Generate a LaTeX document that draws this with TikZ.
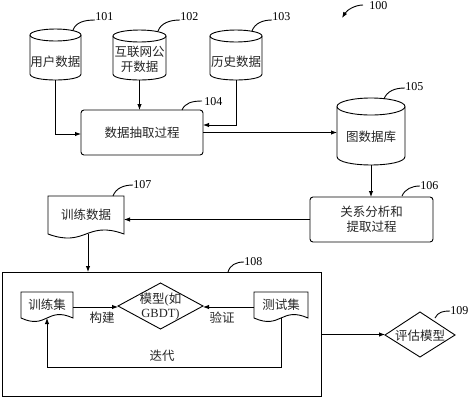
\documentclass[tikz,border=0pt]{standalone}
\usepackage{fontspec}
\setmainfont{Liberation Serif}
\newfontfamily\cjk{Noto Sans CJK SC}
\usetikzlibrary{arrows.meta}
\begin{document}
\begin{tikzpicture}[x=1pt,y=-1pt,line width=0.9pt,
  txt/.style={font=\cjk\fontsize{12.5}{15}\selectfont,inner sep=0pt,text=black!85,align=center},
  num/.style={font=\fontsize{12}{13}\selectfont,inner sep=0pt,anchor=west},
  arr/.style={-{Latex[length=6pt,width=4.5pt]}},
  ghost/.style={inner sep=0pt,outer sep=0pt,draw=none},
  rbox/.style={draw,rounded corners=3pt,inner sep=0pt,outer sep=0pt}]
\useasboundingbox (0,0) rectangle (474,400);

% cylinder 101
\draw (30,35) -- (30,74) .. controls (30,82) and (81,82) .. (81,74) -- (81,35);
\draw (55.5,35) ellipse [x radius=25.5,y radius=6];
\node[ghost,minimum width=51pt,minimum height=51pt] (c101) at (55.5,54.5) {};
\node[txt] (t101) at (55.5,62) {用户数据};
% cylinder 102
\draw (113,36) -- (113,74) .. controls (113,82) and (166,82) .. (166,74) -- (166,36);
\draw (139.5,36) ellipse [x radius=26.5,y radius=6];
\node[ghost,minimum width=53pt,minimum height=50pt] (c102) at (139.5,55) {};
\node[txt] (t102) at (139.5,59.5) {互联网公\\开数据};
% cylinder 103
\draw (210,36) -- (210,74) .. controls (210,82) and (262,82) .. (262,74) -- (262,36);
\draw (236,36) ellipse [x radius=26,y radius=6];
\node[ghost,minimum width=52pt,minimum height=50pt] (c103) at (236,55) {};
\node[txt] (t103) at (236,62) {历史数据};
% cylinder 105
\draw (337,106.5) -- (337,156.5) .. controls (337,167.8) and (405,167.8) .. (405,156.5) -- (405,106.5);
\draw (371,106.5) ellipse [x radius=34,y radius=8.5];
\node[ghost,minimum width=68pt,minimum height=67pt] (c105) at (371,131.5) {};
\node[txt] (t105) at (371,137) {图数据库};

% boxes
\node[rbox,txt,minimum width=122pt,minimum height=45pt] (b104) at (142,132.5) {数据抽取过程};
\node[rbox,txt,minimum width=123pt,minimum height=45pt] (b106) at (371.5,219.5) {关系分析和\\提取过程};

% document 107
\draw (48,196) -- (124,196) -- (124,234) .. controls (86,220) and (86,248) .. (48,234) -- cycle;
\node[ghost,txt,minimum width=76pt,minimum height=38pt] (d107) at (86,215) {训练数据};

% big box 108
\node[draw,ghost,draw,minimum width=319pt,minimum height=124pt] (big) at (161.5,334) {};

% training set doc
\draw (21,292) -- (73,292) -- (73,318) .. controls (47,306) and (47,330) .. (21,318) -- cycle;
\node[ghost,txt,minimum width=52pt,minimum height=26pt] (dtrain) at (47,305) {训练集};
% test set doc
\draw (254,292) -- (308,292) -- (308,318) .. controls (281,306) and (281,330) .. (254,318) -- cycle;
\node[ghost,txt,minimum width=54pt,minimum height=26pt] (dtest) at (281,305) {测试集};

% model diamond
\draw (118,306) -- (160.5,283) -- (203,306) -- (160.5,329) -- cycle;
\node[ghost,minimum width=85pt,minimum height=46pt] (m) at (160.5,306) {};
\node[txt,font=\cjk\fontsize{12.5}{14}\selectfont] (mt) at (160.5,306.5) {模型{\rmfamily(}如\\{\rmfamily GBDT)}};

% evaluate diamond 109
\draw (385,335) -- (420,312) -- (455,335) -- (420,357) -- cycle;
\node[ghost,minimum width=70pt,minimum height=45pt] (d109) at (420,334.5) {};
\node[txt] (t109) at (420,335.5) {评估模型};

% connectors
\draw[arr] (c101.south) |- ([yshift=-1.5pt]b104.west);
\draw[arr] (c102.south) -- (c102.south |- b104.north);
\draw[arr] (c103.south) |- ([yshift=7.5pt]b104.east);
\draw[arr] (b104.east) -- (b104.east -| c105.west);
\draw[arr] (c105.south) -- (c105.south |- b106.north);
\draw[arr] (b106.west) -- (b106.west -| d107.east);
\draw[arr] ([xshift=2pt]d107.south) -- ([xshift=2pt]d107.south |- big.north);
\draw[arr] ([yshift=-2pt]dtrain.east) -- ([yshift=-2pt]dtrain.east -| m.west);
\draw[arr] ([yshift=-2pt]dtest.west) -- ([yshift=-2pt]dtest.west -| m.east);
\draw[arr] (dtest.south) -- ++(0,49) -| (dtrain.south);
\draw[arr] (big.east |- d109.west) -- (d109.west);

% edge labels
\node[txt] (l1) at (102,318) {构建};
\node[txt] (l2) at (222,318) {验证};
\node[txt] (l3) at (162,356) {迭代};

% reference numerals
\draw (73,30) .. controls (76,22) and (85,20) .. (95,20);
\node[num] (n101) at (95,17) {101};
\draw (158,31) .. controls (161,23) and (170,20) .. (180,20);
\node[num] (n102) at (180,17) {102};
\draw (252,31) .. controls (255,23) and (263,20) .. (272,20);
\node[num] (n103) at (272,17) {103};
\draw (182,110) .. controls (185,103) and (192,101) .. (202,101);
\node[num] (n104) at (204,102) {104};
\draw (384,99) .. controls (387,91) and (395,88) .. (405,88);
\node[num] (n105) at (405,87) {105};
\draw (402,196) .. controls (405,189) and (412,186) .. (420,186);
\node[num] (n106) at (420,186) {106};
\draw (113,196) .. controls (116,188) and (124,185) .. (133,185);
\node[num] (n107) at (133,185) {107};
\draw (228,272) .. controls (230,265) and (236,262) .. (244,262);
\node[num] (n108) at (244,262) {108};
\draw (435,318) .. controls (438,312) and (443,311) .. (450,311);
\node[num] (n109) at (450,311) {109};
\coordinate (a100s) at (363,5);
\coordinate (a100e) at (342,18);
\draw[arr] (a100s) .. controls (355,5) and (347,10) .. (a100e);
\node[num] (n100) at (369,6) {100};
\end{tikzpicture}
\end{document}
